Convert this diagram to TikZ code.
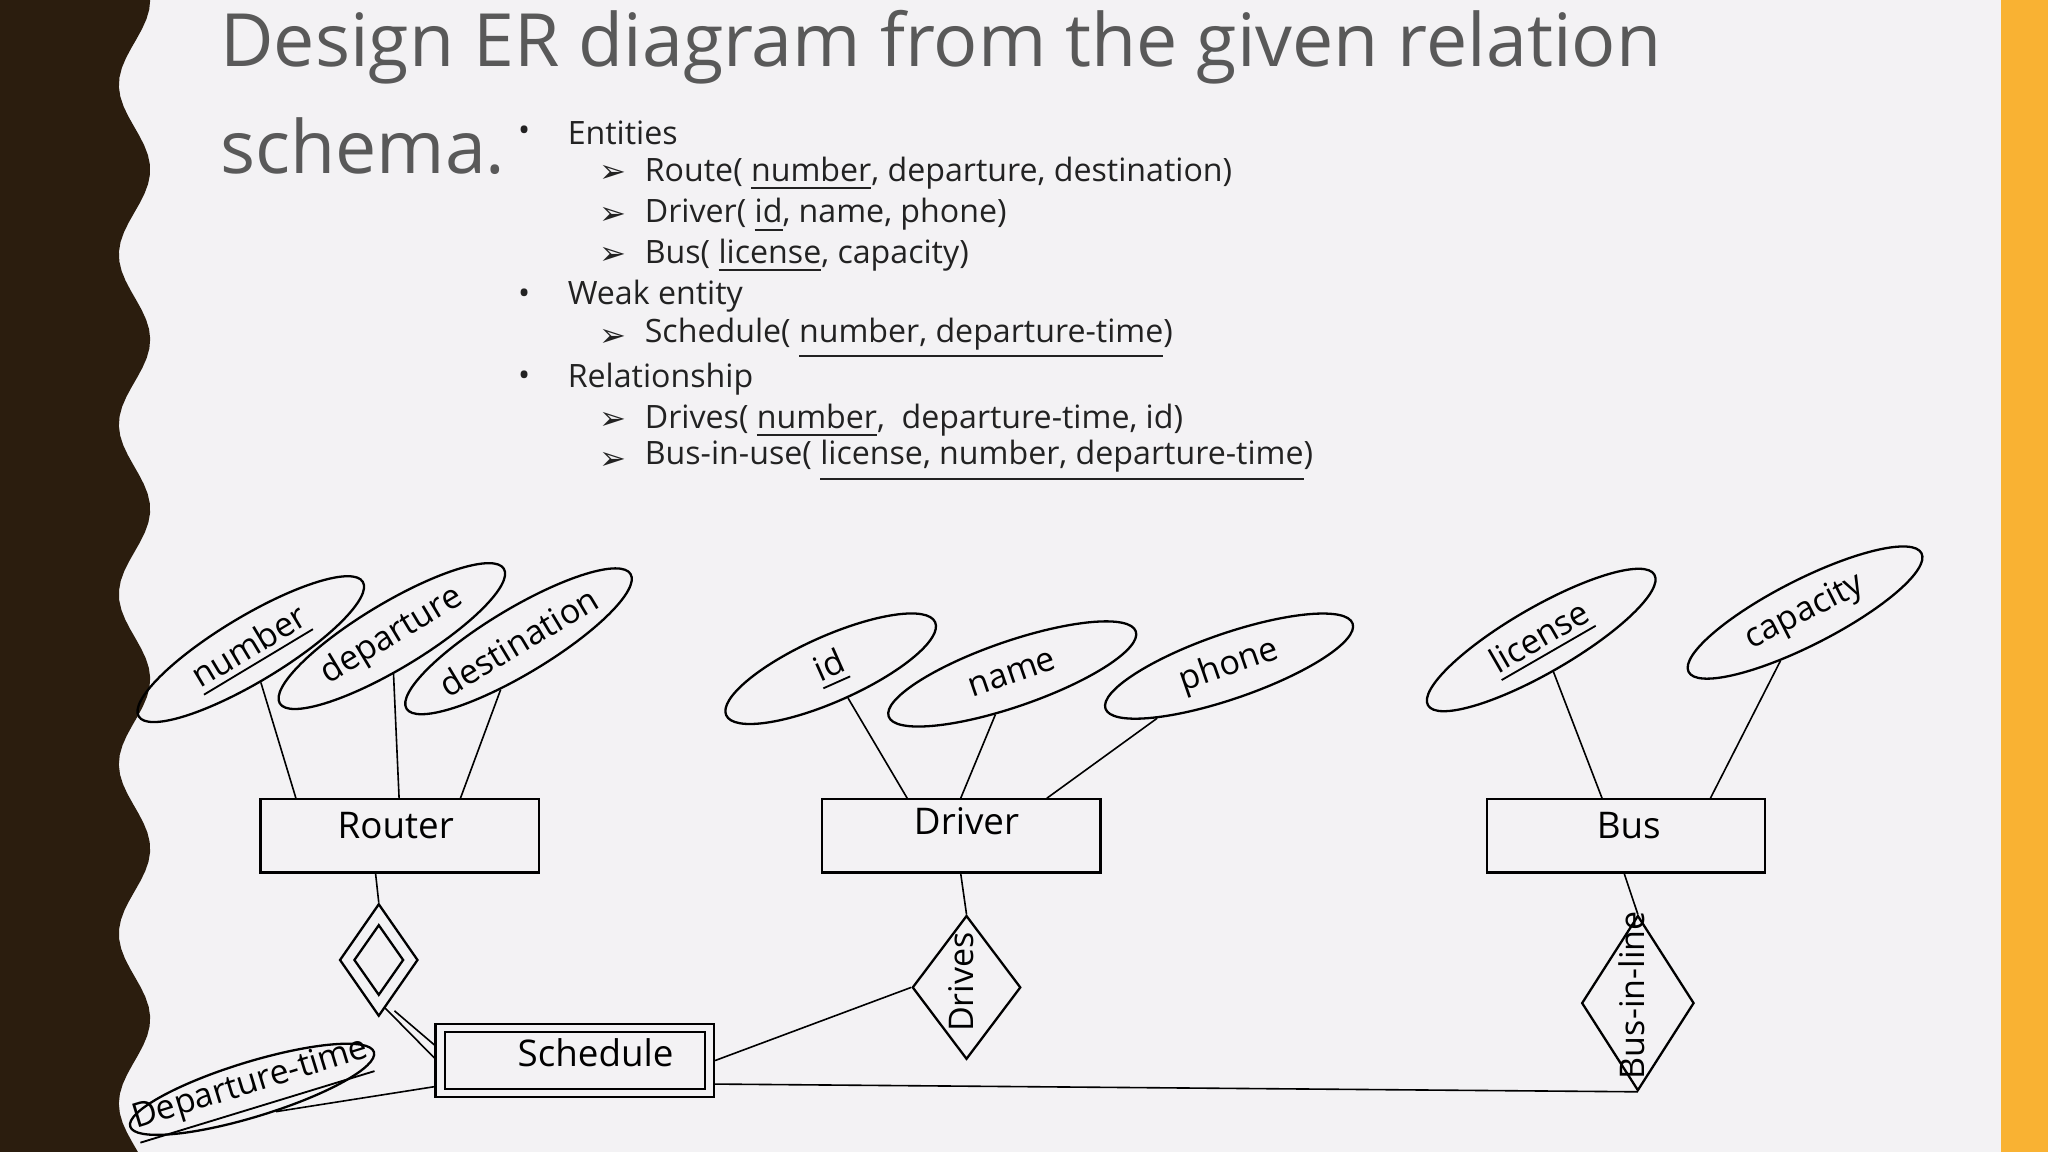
\documentclass[tikz,border=0pt]{standalone}
\usepackage{fontspec}
\setmainfont{Open Sans}
\newfontfamily\symf{DejaVu Sans}
\usetikzlibrary{shapes.geometric,calc}
\definecolor{bgc}{HTML}{F3F2F4}
\definecolor{darkb}{HTML}{2B1D0E}
\definecolor{orng}{HTML}{F9B233}
\definecolor{ttl}{HTML}{595959}
\definecolor{txt}{HTML}{222222}
\tikzset{
 attr/.style={draw,ellipse,line width=0.5pt,minimum width=2cm,minimum height=0.5cm,inner xsep=-1cm,inner ysep=-0.2cm,font=\fontsize{7.4}{8}\selectfont},
 ent/.style={draw,line width=0.5pt,minimum width=2.13cm,minimum height=0.56cm,inner sep=0pt,font=\fontsize{8}{9}\selectfont},
 rel/.style={draw,diamond,line width=0.5pt,inner sep=0pt,font=\fontsize{7.4}{8}\selectfont},
 ln/.style={line width=0.35pt},
 lst/.style={anchor=west,inner sep=0pt,font=\fontsize{7}{8}\selectfont,text=txt}
}
\begin{document}
\begin{tikzpicture}[x=0.01cm,y=-0.01cm]
\useasboundingbox (0,0) rectangle (1568,882);
\fill[bgc] (0,0) rectangle (1568,882);
\fill[orng] (1532,0) rectangle (1568,882);
\fill[darkb] (0,0) -- plot[domain=0:882,samples=120] ({103+12*cos(\x/130*360)},\x) -- (0,882) -- cycle;
% title
\node[anchor=west,inner sep=0pt,text=ttl,font=\fontsize{16}{19}\selectfont] (t1) at (168,36) {Design ER diagram from the given relation};
\node[anchor=west,inner sep=0pt,text=ttl,font=\fontsize{16}{19}\selectfont] (t2) at (168,112) {schema.};
% list
\foreach \yy in {102,227,290} \node[lst] at (396,\yy) {\textbullet};
\foreach \yy in {133,165,196,259,322,353} \node[lst] at (458,\yy) {\symf ➢};
\node[lst] (l1) at (434,102) {Entities};
\node[lst] (l2) at (493,133) {Route( \underline{number}, departure, destination)};
\node[lst] (l3) at (493,165) {Driver( \underline{id}, name, phone)};
\node[lst] (l4) at (493,196) {Bus( \underline{license}, capacity)};
\node[lst] (l5) at (434,227) {Weak entity};
\node[lst] (l6) at (493,259) {Schedule( \underline{number, departure-time})};
\node[lst] (l7) at (434,290) {Relationship};
\node[lst] (l8) at (493,322) {Drives( \underline{number},\ \ departure-time, id)};
\node[lst] (l9) at (493,353) {Bus-in-use( \underline{license, number, departure-time})};
% entities
\node[ent] (router) at (306,640) {};
\node[font=\fontsize{8}{9}\selectfont,inner sep=0pt] at (303,632) {Router};
\node[ent] (driver) at (736,640) {};
\node[font=\fontsize{8}{9}\selectfont,inner sep=0pt] at (740,629) {Driver};
\node[ent] (bus) at (1245,640) {};
\node[font=\fontsize{8}{9}\selectfont,inner sep=0pt] at (1247,632) {Bus};
\node[ent,minimum width=2.13cm,minimum height=0.56cm] (sched) at (440,812) {};
\node[draw,line width=0.5pt,minimum width=1.99cm,minimum height=0.44cm,inner sep=0pt] (schedin) at (440,812) {};
\node[font=\fontsize{8}{9}\selectfont,inner sep=0pt] at (456,806) {Schedule};
% attributes
\node[attr,rotate=31] (num) at (192,497) {\underline{number}};
\node[attr,rotate=31] (dep) at (300,487) {departure};
\node[attr,rotate=31] (dst) at (397,491) {destination};
\node[attr,rotate=24,minimum width=1.75cm] (id) at (636,512) {\underline{id}};
\node[attr,rotate=19] (name) at (775,516) {name};
\node[attr,rotate=19] (phone) at (941,510) {phone};
\node[attr,rotate=30] (lic) at (1180,490) {\underline{license}};
\node[attr,rotate=27] (cap) at (1382,469) {capacity};
\node[attr,rotate=17,minimum width=1.95cm,minimum height=0.42cm] (dtime) at (193,834) {\underline{Departure-time}};
% relationships
\node[rel,minimum width=0.6cm,minimum height=0.86cm] (wk) at (290,735) {};
\node[draw,diamond,line width=0.5pt,minimum width=0.38cm,minimum height=0.54cm,inner sep=0pt] (wkin) at (290,735) {};
\node[rel,minimum width=0.83cm,minimum height=1.1cm] (drv) at (740,756) {};
\node[rotate=90,font=\fontsize{7.4}{8}\selectfont,inner sep=0pt] at (736,752) {Drives};
\node[rel,minimum width=0.86cm,minimum height=1.34cm] (bil) at (1254,768) {};
\node[rotate=90,font=\fontsize{7.4}{8}\selectfont,inner sep=0pt] at (1249,762) {Bus-in-line};
% connectors
\draw[ln] (num) -- ($(router.north west)+(28,0)$);
\draw[ln] (dep) -- ($(router.north west)+(107,0)$);
\draw[ln] (dst) -- ($(router.north west)+(154,0)$);
\draw[ln] (id) -- ($(driver.north west)+(66,0)$);
\draw[ln] (name) -- ($(driver.north west)+(107,0)$);
\draw[ln] (phone) -- ($(driver.north west)+(173,0)$);
\draw[ln] (lic) -- ($(bus.north west)+(89,0)$);
\draw[ln] (cap) -- ($(bus.north west)+(172,0)$);
\draw[ln] ($(router.south west)+(89,0)$) -- (wk.north);
\draw[ln] ($(wk.south)+(4,-8)$) -- ($(sched.west)+(0,-2)$);
\draw[ln] ($(wk.south)+(12,-5)$) -- ($(sched.west)+(0,-12)$);
\draw[ln] ($(driver.south west)+(107,0)$) -- (drv.north);
\draw[ln] (drv.west) -- (sched.east);
\draw[ln] ($(bus.south west)+(106,0)$) -- (bil.north);
\draw[ln] (bil.south) -- ($(sched.east)+(0,18)$);
\draw[ln] (dtime.-60) -- ($(sched.west)+(0,20)$);
\end{tikzpicture}
\end{document}
